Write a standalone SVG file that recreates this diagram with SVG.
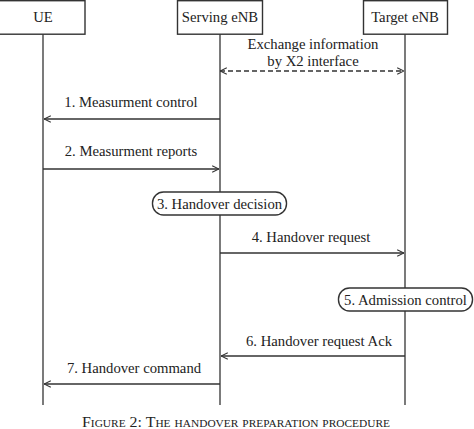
<svg xmlns="http://www.w3.org/2000/svg" width="474" height="429" viewBox="0 0 474 429">
<defs>
<marker id="ah" viewBox="0 0 10 10" refX="9.5" refY="5" markerWidth="8" markerHeight="8" markerUnits="userSpaceOnUse" orient="auto-start-reverse">
<path d="M1,1 L9.5,5 L1,9" fill="none" stroke="#333" stroke-width="1.4"/>
</marker>
<style>
.box{fill:#fff;stroke:#333;stroke-width:1.4}
.life{stroke:#333;stroke-width:1.3;fill:none}
.msg{stroke:#333;stroke-width:1.3;fill:none;marker-end:url(#ah)}
.t{font-family:"Liberation Serif",serif;font-size:14.7px;fill:#222;text-anchor:middle}
</style>
</defs>
<rect width="474" height="429" fill="#fff"/>
<g id="lifelines">
<line class="life" x1="43" y1="34" x2="43" y2="405"/>
<line class="life" x1="220" y1="34" x2="220" y2="405"/>
<line class="life" x1="405" y1="34" x2="405" y2="405"/>
</g>
<g id="ue"><rect class="box" x="-1" y="0.7" width="86" height="33.5"/><text class="t" x="43" y="22">UE</text></g>
<g id="serving"><rect class="box" x="177.5" y="0.7" width="85" height="33.5"/><text class="t" x="220" y="22">Serving eNB</text></g>
<g id="target"><rect class="box" x="363.5" y="0.7" width="84" height="33.5"/><text class="t" x="405" y="22">Target eNB</text></g>
<g id="connectors">
<line class="msg" x1="220" y1="71" x2="404" y2="71" stroke-dasharray="5,3" marker-start="url(#ah)"/>
<line class="msg" x1="220" y1="119" x2="44" y2="119"/>
<line class="msg" x1="43" y1="169" x2="219" y2="169"/>
<line class="msg" x1="220" y1="253" x2="404" y2="253"/>
<line class="msg" x1="405" y1="356" x2="221" y2="356"/>
<line class="msg" x1="220" y1="384" x2="44" y2="384"/>
</g>
<g id="labels">
<text class="t" x="313" y="49">Exchange information</text>
<text class="t" x="313" y="66">by X2 interface</text>
<text class="t" x="131" y="107">1. Measurment control</text>
<text class="t" x="131" y="156">2. Measurment reports</text>
<text class="t" x="311" y="242">4. Handover request</text>
<text class="t" x="319" y="346">6. Handover request Ack</text>
<text class="t" x="134" y="373">7.  Handover command</text>
</g>
<g id="decision"><rect class="box" x="152.5" y="192" width="134" height="23" rx="11" ry="11"/><text class="t" x="219.5" y="209">3. Handover decision</text></g>
<g id="admission"><rect class="box" x="338.5" y="288" width="134" height="23" rx="11" ry="11"/><text class="t" x="405.5" y="305">5. Admission control</text></g>
<text class="t" x="236" y="427" textLength="308" lengthAdjust="spacingAndGlyphs" style="font-size:14px;font-variant:small-caps">Figure 2: The handover preparation procedure</text>
</svg>
